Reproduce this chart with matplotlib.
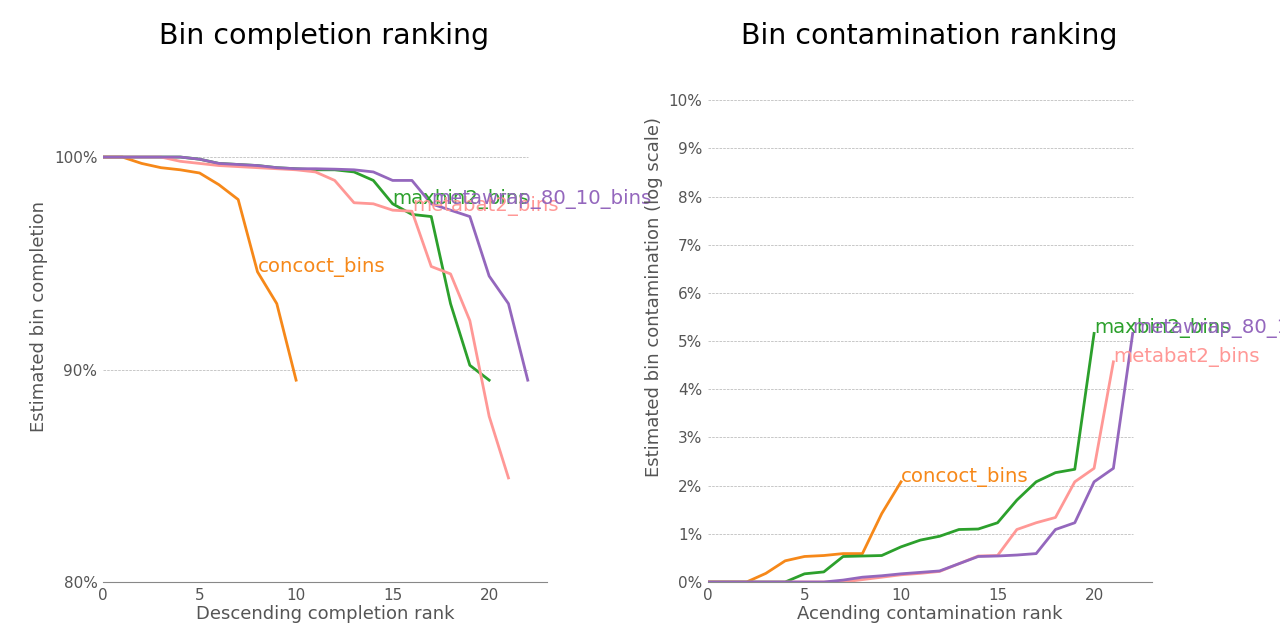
import matplotlib
matplotlib.use('Agg')
import matplotlib.pyplot as plt

# bin names and colours
names = ['concoct_bins', 'maxbin2_bins', 'metabat2_bins', 'metawrap_80_10_bins']
colors = ['#f68819', '#2ca02c', '#ff9896', '#9467bd']

# completion (%) by descending rank
completion = {
    'concoct_bins': [100, 100, 99.7, 99.5, 99.4, 99.25, 98.7, 98.0, 94.6, 93.1, 89.5],
    'maxbin2_bins': [100, 100, 100, 100, 100, 99.9, 99.7, 99.65, 99.6, 99.5, 99.45,
                     99.4, 99.4, 99.3, 98.9, 97.8, 97.3, 97.2, 93.1, 90.2, 89.5],
    'metabat2_bins': [100, 100, 100, 100, 99.8, 99.7, 99.6, 99.55, 99.5, 99.45, 99.4,
                      99.3, 98.9, 97.85, 97.8, 97.5, 97.45, 94.85, 94.5, 92.3, 87.8, 84.9],
    'metawrap_80_10_bins': [100, 100, 100, 100, 100, 99.9, 99.7, 99.65, 99.6, 99.5, 99.45,
                            99.45, 99.43, 99.4, 99.3, 98.9, 98.9, 97.8, 97.5, 97.2, 94.4, 93.1, 89.5],
}

# contamination (%) by ascending rank
contamination = {
    'concoct_bins': [0, 0, 0, 0.18, 0.44, 0.53, 0.55, 0.59, 0.59, 1.42, 2.08],
    'maxbin2_bins': [0, 0, 0, 0, 0, 0.17, 0.21, 0.53, 0.54, 0.55, 0.73, 0.87, 0.95,
                     1.09, 1.1, 1.23, 1.7, 2.08, 2.27, 2.34, 5.16],
    'metabat2_bins': [0, 0, 0, 0, 0, 0, 0, 0, 0.05, 0.1, 0.15, 0.18, 0.22, 0.38, 0.54,
                      0.55, 1.09, 1.23, 1.34, 2.08, 2.36, 4.57],
    'metawrap_80_10_bins': [0, 0, 0, 0, 0, 0, 0, 0.04, 0.1, 0.13, 0.17, 0.2, 0.23, 0.38,
                            0.53, 0.54, 0.56, 0.59, 1.09, 1.23, 2.08, 2.36, 5.16],
}

comp_ticks = [80, 90, 100]
cont_ticks = list(range(0, 11))
x_ticks = [0, 5, 10, 15, 20]
grey = '#555555'

fig = plt.figure(figsize=(12.8, 6.4), dpi=100)
ax1 = fig.add_axes([0.0805, 0.0906, 0.3469, 0.830])
ax2 = fig.add_axes([0.5531, 0.0906, 0.3469, 0.892])


def style(ax):
    for s in ['top', 'right', 'left']:
        ax.spines[s].set_visible(False)
    ax.spines['bottom'].set_color('#888888')
    ax.tick_params(length=0, labelsize=11, labelcolor=grey, pad=4)
    ax.set_xticks(x_ticks)
    ax.set_xlim(0, 23)


# completion ranking
style(ax1)
for y in comp_ticks[1:]:
    ax1.plot([0, 22], [y, y], '--', lw=0.5, color='black', alpha=0.3)
for name, c in zip(names, colors):
    vals = completion[name]
    ax1.plot(range(len(vals)), vals, lw=2, color=c)
    i = int(len(vals) * 0.75)
    ax1.text(i, vals[i], name, color=c, fontsize=14.2)
ax1.set_ylim(80, 105)
ax1.set_yticks(comp_ticks)
ax1.set_yticklabels([f'{t}%' for t in comp_ticks])
ax1.set_xlabel('Descending completion rank', fontsize=13, color=grey, labelpad=2)
ax1.set_ylabel('Estimated bin completion', fontsize=13, color=grey)

# contamination ranking
style(ax2)
for y in cont_ticks:
    ax2.plot([0, 22], [y, y], '--', lw=0.5, color='black', alpha=0.3)
for name, c in zip(names, colors):
    vals = contamination[name]
    ax2.plot(range(len(vals)), vals, lw=2, color=c)
    ax2.text(len(vals) - 1, vals[-1], name, color=c, fontsize=14.2)
ax2.set_ylim(0, 11.85)
ax2.set_yticks(cont_ticks)
ax2.set_yticklabels([f'{t}%' for t in cont_ticks])
ax2.set_xlabel('Acending contamination rank', fontsize=13, color=grey, labelpad=2)
ax2.set_ylabel('Estimated bin contamination (log scale)', fontsize=13, color=grey)

fig.text(324.5 / 1280, 1 - 36 / 640, 'Bin completion ranking', fontsize=20.5,
         ha='center', va='center')
fig.text(929 / 1280, 1 - 36 / 640, 'Bin contamination ranking', fontsize=20.5,
         ha='center', va='center')

plt.savefig('out.png', dpi=100)
plt.close()
